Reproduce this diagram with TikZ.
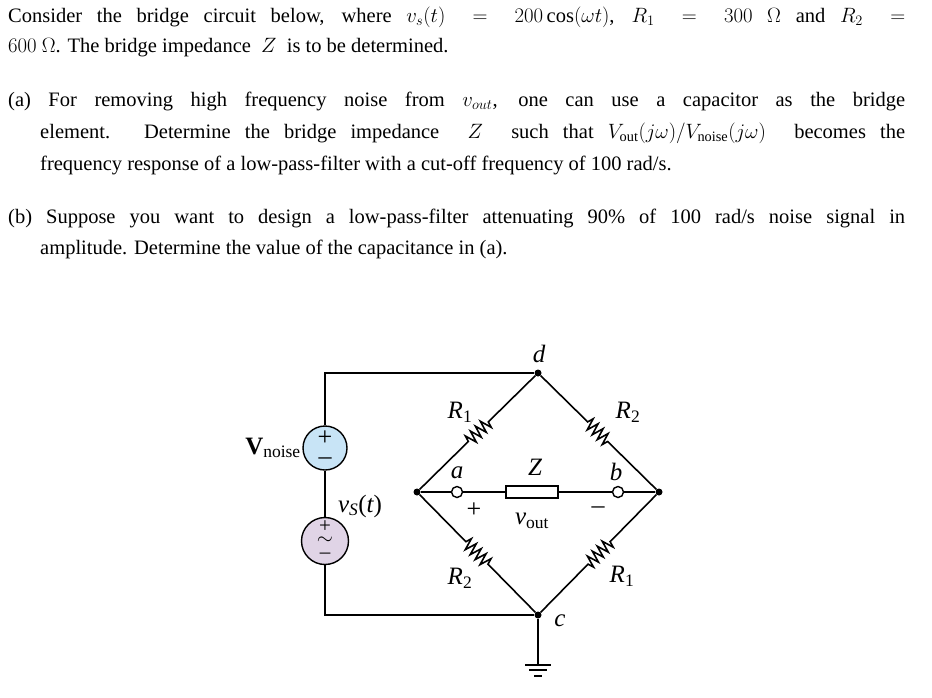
\documentclass[tikz,border=0pt]{standalone}
\usepackage{fontspec}
\setmainfont{Liberation Serif}
\usetikzlibrary{decorations.pathmorphing}
\begin{document}
\begin{tikzpicture}[x=1pt,y=-1pt,
  wire/.style={line width=1.6pt},
  res/.style={wire,decorate,decoration={zigzag,segment length=7pt,amplitude=6pt,pre length=66pt,post length=66pt}},
  dot/.style={circle,fill,inner sep=0,minimum size=7pt},
  term/.style={circle,draw,line width=1.4pt,fill=white,inner sep=0,minimum size=11pt},
  lbl/.style={font=\fontsize{25}{25}\selectfont,inner sep=0},
  mk/.style={font=\fontsize{26}{26}\selectfont,inner sep=0},
  smk/.style={font=\fontsize{21}{21}\selectfont,inner sep=0},
  full/.style={anchor=west,inner sep=0,font=\fontsize{20.5}{24}\selectfont,text width=#1,align=justify,execute at begin node={\parfillskip=0pt}},
  line/.style={anchor=west,inner sep=0,font=\fontsize{20.5}{24}\selectfont}]
\useasboundingbox (0,0) rectangle (932,697);
% text
\node[full=897pt] (t1) at (8,17) {Consider the bridge circuit below, where $v_s(t)=200\cos(\omega t)$, $R_1=300\ \Omega$ and $R_2=$};
\node[line] (t2) at (8,48) {$600\ \Omega$. The bridge impedance \ $Z$ \ is to be determined.};
\node[full=897pt] (t3) at (8,101) {(a) For removing high frequency noise from $v_{out}$, one can use a capacitor as the bridge};
\node[full=865pt] (t4) at (40,133) {element. Determine the bridge impedance \ $Z$ \ such that $V_{\mathrm{out}}(j\omega)/V_{\mathrm{noise}}(j\omega)$ \ becomes the};
\node[line] (t5) at (40,165) {frequency response of a low-pass-filter with a cut-off frequency of 100 rad/s.};
\node[full=897pt] (t6) at (8,218) {(b) Suppose you want to design a low-pass-filter attenuating 90\% of 100 rad/s noise signal in};
\node[line] (t7) at (40,249) {amplitude. Determine the value of the capacitance in (a).};
% circuit nodes
\coordinate (tl) at (325,373);
\coordinate (bl) at (325,615);
\node[dot] (d) at (538,373) {};
\node[dot] (L) at (417,492) {};
\node[dot] (R) at (659,492) {};
\node[dot] (c) at (538,615) {};
\node[circle,draw,line width=1.4pt,fill={rgb,255:red,200;green,228;blue,246},minimum size=44pt,inner sep=0] (vn) at (325,448) {};
\node[circle,draw,line width=1.4pt,fill={rgb,255:red,224;green,212;blue,230},minimum size=47pt,inner sep=0] (vs) at (325,541) {};
\coordinate (g) at (538,665);
% wires
\draw[wire] (vn.north) -- (tl) -- (d);
\draw[wire] (vn.south) -- (vs.north);
\draw[wire] (vs.south) -- (bl) -- (c);
\draw[res] (d) -- (L);
\draw[res] (d) -- (R);
\draw[res] (L) -- (c);
\draw[res] (R) -- (c);
\node[term] (a) at (457,492) {};
\node[term] (b) at (618,492) {};
\node[draw,line width=1.4pt,minimum width=52pt,minimum height=12pt,inner sep=0] (z) at (532,492) {};
\draw[wire] (L) -- (a) -- (z) -- (b) -- (R);
\draw[wire] (c) -- (g);
\draw[line width=1.6pt] (525,665) -- (551,665);
\draw[line width=1.6pt] (529,670) -- (547,670);
\draw[line width=1.6pt] (534,676) -- (542,676);
% source marks
\node[mk] (vnp) at (325,438) {+};
\node[mk] (vnm) at (325,461) {–};
\node[smk] (vsp) at (325,527) {+};
\node[smk] (vst) at (325,541) {$\sim$};
\node[smk] (vsm) at (325,556) {–};
% labels
\node[lbl] (ld) at (539,354) {\itshape d};
\node[lbl] (lc) at (560,621) {\itshape c};
\node[lbl] (la) at (457,473) {\itshape a};
\node[lbl] (lb) at (616,472) {\itshape b};
\node[lbl] (lz) at (535,467) {\itshape Z};
\node[lbl] (lr1a) at (460,412) {\itshape R\textsubscript{\upshape 1}};
\node[lbl] (lr2a) at (628,412) {\itshape R\textsubscript{\upshape 2}};
\node[lbl] (lr2b) at (460,578) {\itshape R\textsubscript{\upshape 2}};
\node[lbl] (lr1b) at (622,576) {\itshape R\textsubscript{\upshape 1}};
\node[lbl] (lvn) at (273,448) {\textbf{V}\textsubscript{noise}};
\node[lbl] (lvs) at (360,506) {\itshape v\textsubscript{S}\upshape(\itshape t\upshape)};
\node[lbl] (lvo) at (532,521) {\itshape v\textsubscript{\upshape out}};
\node[mk] (lp) at (474,510) {+};
\node[mk] (lm) at (598,510) {–};
\end{tikzpicture}
\end{document}
